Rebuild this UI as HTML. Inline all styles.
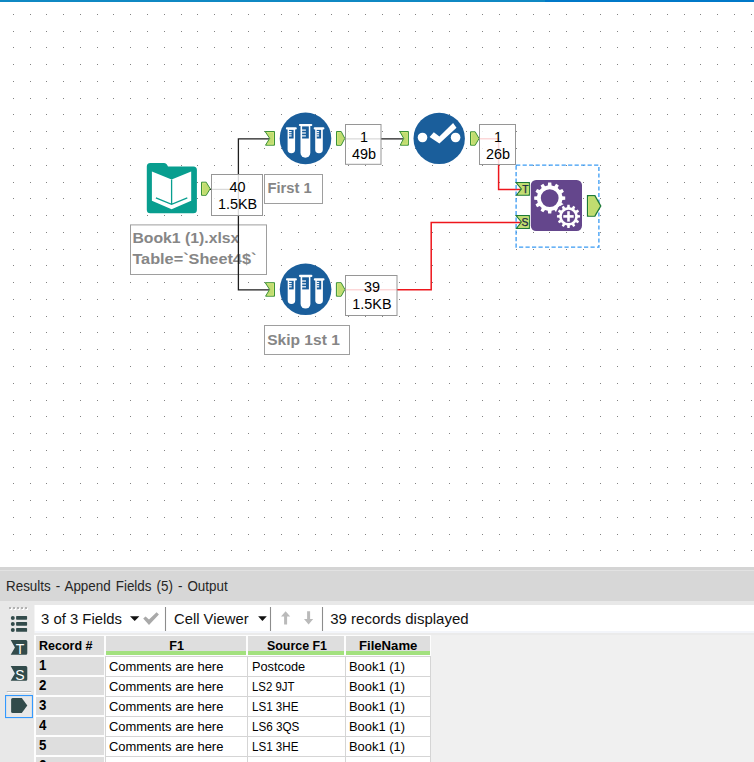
<!DOCTYPE html>
<html><head><meta charset="utf-8"><title>Results - Append Fields</title>
<style>
html,body{margin:0;padding:0;background:#fff}
body{width:754px;height:762px;position:relative;overflow:hidden;font-family:"Liberation Sans",Arial,sans-serif}
.t{position:absolute;white-space:nowrap;line-height:1;transform-origin:0 50%}
</style></head><body>
<svg width="754" height="567" viewBox="0 0 754 567" style="position:absolute;left:0;top:0"><style>.db{font-family:"Liberation Sans",Arial,sans-serif;font-size:14.4px;fill:#000;text-anchor:middle}.lb{font-family:"Liberation Sans",Arial,sans-serif;font-weight:bold;font-size:15.2px;fill:#868686}.an{font-family:"Liberation Sans",Arial,sans-serif;font-size:10.4px;fill:#1c2a44;stroke:#1c2a44;stroke-width:0.25px;text-anchor:middle}</style><rect width="754" height="567" fill="#fff"/><path fill="#828282" d="M13 14h1v1h-1zM30 14h1v1h-1zM46 14h1v1h-1zM63 14h1v1h-1zM80 14h1v1h-1zM97 14h1v1h-1zM113 14h1v1h-1zM130 14h1v1h-1zM147 14h1v1h-1zM164 14h1v1h-1zM181 14h1v1h-1zM197 14h1v1h-1zM214 14h1v1h-1zM231 14h1v1h-1zM248 14h1v1h-1zM264 14h1v1h-1zM281 14h1v1h-1zM298 14h1v1h-1zM315 14h1v1h-1zM331 14h1v1h-1zM348 14h1v1h-1zM365 14h1v1h-1zM382 14h1v1h-1zM399 14h1v1h-1zM415 14h1v1h-1zM432 14h1v1h-1zM449 14h1v1h-1zM466 14h1v1h-1zM482 14h1v1h-1zM499 14h1v1h-1zM516 14h1v1h-1zM533 14h1v1h-1zM549 14h1v1h-1zM566 14h1v1h-1zM583 14h1v1h-1zM600 14h1v1h-1zM617 14h1v1h-1zM633 14h1v1h-1zM650 14h1v1h-1zM667 14h1v1h-1zM684 14h1v1h-1zM700 14h1v1h-1zM717 14h1v1h-1zM734 14h1v1h-1zM751 14h1v1h-1zM13 31h1v1h-1zM30 31h1v1h-1zM46 31h1v1h-1zM63 31h1v1h-1zM80 31h1v1h-1zM97 31h1v1h-1zM113 31h1v1h-1zM130 31h1v1h-1zM147 31h1v1h-1zM164 31h1v1h-1zM181 31h1v1h-1zM197 31h1v1h-1zM214 31h1v1h-1zM231 31h1v1h-1zM248 31h1v1h-1zM264 31h1v1h-1zM281 31h1v1h-1zM298 31h1v1h-1zM315 31h1v1h-1zM331 31h1v1h-1zM348 31h1v1h-1zM365 31h1v1h-1zM382 31h1v1h-1zM399 31h1v1h-1zM415 31h1v1h-1zM432 31h1v1h-1zM449 31h1v1h-1zM466 31h1v1h-1zM482 31h1v1h-1zM499 31h1v1h-1zM516 31h1v1h-1zM533 31h1v1h-1zM549 31h1v1h-1zM566 31h1v1h-1zM583 31h1v1h-1zM600 31h1v1h-1zM617 31h1v1h-1zM633 31h1v1h-1zM650 31h1v1h-1zM667 31h1v1h-1zM684 31h1v1h-1zM700 31h1v1h-1zM717 31h1v1h-1zM734 31h1v1h-1zM751 31h1v1h-1zM13 47h1v1h-1zM30 47h1v1h-1zM46 47h1v1h-1zM63 47h1v1h-1zM80 47h1v1h-1zM97 47h1v1h-1zM113 47h1v1h-1zM130 47h1v1h-1zM147 47h1v1h-1zM164 47h1v1h-1zM181 47h1v1h-1zM197 47h1v1h-1zM214 47h1v1h-1zM231 47h1v1h-1zM248 47h1v1h-1zM264 47h1v1h-1zM281 47h1v1h-1zM298 47h1v1h-1zM315 47h1v1h-1zM331 47h1v1h-1zM348 47h1v1h-1zM365 47h1v1h-1zM382 47h1v1h-1zM399 47h1v1h-1zM415 47h1v1h-1zM432 47h1v1h-1zM449 47h1v1h-1zM466 47h1v1h-1zM482 47h1v1h-1zM499 47h1v1h-1zM516 47h1v1h-1zM533 47h1v1h-1zM549 47h1v1h-1zM566 47h1v1h-1zM583 47h1v1h-1zM600 47h1v1h-1zM617 47h1v1h-1zM633 47h1v1h-1zM650 47h1v1h-1zM667 47h1v1h-1zM684 47h1v1h-1zM700 47h1v1h-1zM717 47h1v1h-1zM734 47h1v1h-1zM751 47h1v1h-1zM13 64h1v1h-1zM30 64h1v1h-1zM46 64h1v1h-1zM63 64h1v1h-1zM80 64h1v1h-1zM97 64h1v1h-1zM113 64h1v1h-1zM130 64h1v1h-1zM147 64h1v1h-1zM164 64h1v1h-1zM181 64h1v1h-1zM197 64h1v1h-1zM214 64h1v1h-1zM231 64h1v1h-1zM248 64h1v1h-1zM264 64h1v1h-1zM281 64h1v1h-1zM298 64h1v1h-1zM315 64h1v1h-1zM331 64h1v1h-1zM348 64h1v1h-1zM365 64h1v1h-1zM382 64h1v1h-1zM399 64h1v1h-1zM415 64h1v1h-1zM432 64h1v1h-1zM449 64h1v1h-1zM466 64h1v1h-1zM482 64h1v1h-1zM499 64h1v1h-1zM516 64h1v1h-1zM533 64h1v1h-1zM549 64h1v1h-1zM566 64h1v1h-1zM583 64h1v1h-1zM600 64h1v1h-1zM617 64h1v1h-1zM633 64h1v1h-1zM650 64h1v1h-1zM667 64h1v1h-1zM684 64h1v1h-1zM700 64h1v1h-1zM717 64h1v1h-1zM734 64h1v1h-1zM751 64h1v1h-1zM13 81h1v1h-1zM30 81h1v1h-1zM46 81h1v1h-1zM63 81h1v1h-1zM80 81h1v1h-1zM97 81h1v1h-1zM113 81h1v1h-1zM130 81h1v1h-1zM147 81h1v1h-1zM164 81h1v1h-1zM181 81h1v1h-1zM197 81h1v1h-1zM214 81h1v1h-1zM231 81h1v1h-1zM248 81h1v1h-1zM264 81h1v1h-1zM281 81h1v1h-1zM298 81h1v1h-1zM315 81h1v1h-1zM331 81h1v1h-1zM348 81h1v1h-1zM365 81h1v1h-1zM382 81h1v1h-1zM399 81h1v1h-1zM415 81h1v1h-1zM432 81h1v1h-1zM449 81h1v1h-1zM466 81h1v1h-1zM482 81h1v1h-1zM499 81h1v1h-1zM516 81h1v1h-1zM533 81h1v1h-1zM549 81h1v1h-1zM566 81h1v1h-1zM583 81h1v1h-1zM600 81h1v1h-1zM617 81h1v1h-1zM633 81h1v1h-1zM650 81h1v1h-1zM667 81h1v1h-1zM684 81h1v1h-1zM700 81h1v1h-1zM717 81h1v1h-1zM734 81h1v1h-1zM751 81h1v1h-1zM13 98h1v1h-1zM30 98h1v1h-1zM46 98h1v1h-1zM63 98h1v1h-1zM80 98h1v1h-1zM97 98h1v1h-1zM113 98h1v1h-1zM130 98h1v1h-1zM147 98h1v1h-1zM164 98h1v1h-1zM181 98h1v1h-1zM197 98h1v1h-1zM214 98h1v1h-1zM231 98h1v1h-1zM248 98h1v1h-1zM264 98h1v1h-1zM281 98h1v1h-1zM298 98h1v1h-1zM315 98h1v1h-1zM331 98h1v1h-1zM348 98h1v1h-1zM365 98h1v1h-1zM382 98h1v1h-1zM399 98h1v1h-1zM415 98h1v1h-1zM432 98h1v1h-1zM449 98h1v1h-1zM466 98h1v1h-1zM482 98h1v1h-1zM499 98h1v1h-1zM516 98h1v1h-1zM533 98h1v1h-1zM549 98h1v1h-1zM566 98h1v1h-1zM583 98h1v1h-1zM600 98h1v1h-1zM617 98h1v1h-1zM633 98h1v1h-1zM650 98h1v1h-1zM667 98h1v1h-1zM684 98h1v1h-1zM700 98h1v1h-1zM717 98h1v1h-1zM734 98h1v1h-1zM751 98h1v1h-1zM13 114h1v1h-1zM30 114h1v1h-1zM46 114h1v1h-1zM63 114h1v1h-1zM80 114h1v1h-1zM97 114h1v1h-1zM113 114h1v1h-1zM130 114h1v1h-1zM147 114h1v1h-1zM164 114h1v1h-1zM181 114h1v1h-1zM197 114h1v1h-1zM214 114h1v1h-1zM231 114h1v1h-1zM248 114h1v1h-1zM264 114h1v1h-1zM281 114h1v1h-1zM298 114h1v1h-1zM315 114h1v1h-1zM331 114h1v1h-1zM348 114h1v1h-1zM365 114h1v1h-1zM382 114h1v1h-1zM399 114h1v1h-1zM415 114h1v1h-1zM432 114h1v1h-1zM449 114h1v1h-1zM466 114h1v1h-1zM482 114h1v1h-1zM499 114h1v1h-1zM516 114h1v1h-1zM533 114h1v1h-1zM549 114h1v1h-1zM566 114h1v1h-1zM583 114h1v1h-1zM600 114h1v1h-1zM617 114h1v1h-1zM633 114h1v1h-1zM650 114h1v1h-1zM667 114h1v1h-1zM684 114h1v1h-1zM700 114h1v1h-1zM717 114h1v1h-1zM734 114h1v1h-1zM751 114h1v1h-1zM13 131h1v1h-1zM30 131h1v1h-1zM46 131h1v1h-1zM63 131h1v1h-1zM80 131h1v1h-1zM97 131h1v1h-1zM113 131h1v1h-1zM130 131h1v1h-1zM147 131h1v1h-1zM164 131h1v1h-1zM181 131h1v1h-1zM197 131h1v1h-1zM214 131h1v1h-1zM231 131h1v1h-1zM248 131h1v1h-1zM264 131h1v1h-1zM281 131h1v1h-1zM298 131h1v1h-1zM315 131h1v1h-1zM331 131h1v1h-1zM348 131h1v1h-1zM365 131h1v1h-1zM382 131h1v1h-1zM399 131h1v1h-1zM415 131h1v1h-1zM432 131h1v1h-1zM449 131h1v1h-1zM466 131h1v1h-1zM482 131h1v1h-1zM499 131h1v1h-1zM516 131h1v1h-1zM533 131h1v1h-1zM549 131h1v1h-1zM566 131h1v1h-1zM583 131h1v1h-1zM600 131h1v1h-1zM617 131h1v1h-1zM633 131h1v1h-1zM650 131h1v1h-1zM667 131h1v1h-1zM684 131h1v1h-1zM700 131h1v1h-1zM717 131h1v1h-1zM734 131h1v1h-1zM751 131h1v1h-1zM13 148h1v1h-1zM30 148h1v1h-1zM46 148h1v1h-1zM63 148h1v1h-1zM80 148h1v1h-1zM97 148h1v1h-1zM113 148h1v1h-1zM130 148h1v1h-1zM147 148h1v1h-1zM164 148h1v1h-1zM181 148h1v1h-1zM197 148h1v1h-1zM214 148h1v1h-1zM231 148h1v1h-1zM248 148h1v1h-1zM264 148h1v1h-1zM281 148h1v1h-1zM298 148h1v1h-1zM315 148h1v1h-1zM331 148h1v1h-1zM348 148h1v1h-1zM365 148h1v1h-1zM382 148h1v1h-1zM399 148h1v1h-1zM415 148h1v1h-1zM432 148h1v1h-1zM449 148h1v1h-1zM466 148h1v1h-1zM482 148h1v1h-1zM499 148h1v1h-1zM516 148h1v1h-1zM533 148h1v1h-1zM549 148h1v1h-1zM566 148h1v1h-1zM583 148h1v1h-1zM600 148h1v1h-1zM617 148h1v1h-1zM633 148h1v1h-1zM650 148h1v1h-1zM667 148h1v1h-1zM684 148h1v1h-1zM700 148h1v1h-1zM717 148h1v1h-1zM734 148h1v1h-1zM751 148h1v1h-1zM13 165h1v1h-1zM30 165h1v1h-1zM46 165h1v1h-1zM63 165h1v1h-1zM80 165h1v1h-1zM97 165h1v1h-1zM113 165h1v1h-1zM130 165h1v1h-1zM147 165h1v1h-1zM164 165h1v1h-1zM181 165h1v1h-1zM197 165h1v1h-1zM214 165h1v1h-1zM231 165h1v1h-1zM248 165h1v1h-1zM264 165h1v1h-1zM281 165h1v1h-1zM298 165h1v1h-1zM315 165h1v1h-1zM331 165h1v1h-1zM348 165h1v1h-1zM365 165h1v1h-1zM382 165h1v1h-1zM399 165h1v1h-1zM415 165h1v1h-1zM432 165h1v1h-1zM449 165h1v1h-1zM466 165h1v1h-1zM482 165h1v1h-1zM499 165h1v1h-1zM516 165h1v1h-1zM533 165h1v1h-1zM549 165h1v1h-1zM566 165h1v1h-1zM583 165h1v1h-1zM600 165h1v1h-1zM617 165h1v1h-1zM633 165h1v1h-1zM650 165h1v1h-1zM667 165h1v1h-1zM684 165h1v1h-1zM700 165h1v1h-1zM717 165h1v1h-1zM734 165h1v1h-1zM751 165h1v1h-1zM13 182h1v1h-1zM30 182h1v1h-1zM46 182h1v1h-1zM63 182h1v1h-1zM80 182h1v1h-1zM97 182h1v1h-1zM113 182h1v1h-1zM130 182h1v1h-1zM147 182h1v1h-1zM164 182h1v1h-1zM181 182h1v1h-1zM197 182h1v1h-1zM214 182h1v1h-1zM231 182h1v1h-1zM248 182h1v1h-1zM264 182h1v1h-1zM281 182h1v1h-1zM298 182h1v1h-1zM315 182h1v1h-1zM331 182h1v1h-1zM348 182h1v1h-1zM365 182h1v1h-1zM382 182h1v1h-1zM399 182h1v1h-1zM415 182h1v1h-1zM432 182h1v1h-1zM449 182h1v1h-1zM466 182h1v1h-1zM482 182h1v1h-1zM499 182h1v1h-1zM516 182h1v1h-1zM533 182h1v1h-1zM549 182h1v1h-1zM566 182h1v1h-1zM583 182h1v1h-1zM600 182h1v1h-1zM617 182h1v1h-1zM633 182h1v1h-1zM650 182h1v1h-1zM667 182h1v1h-1zM684 182h1v1h-1zM700 182h1v1h-1zM717 182h1v1h-1zM734 182h1v1h-1zM751 182h1v1h-1zM13 198h1v1h-1zM30 198h1v1h-1zM46 198h1v1h-1zM63 198h1v1h-1zM80 198h1v1h-1zM97 198h1v1h-1zM113 198h1v1h-1zM130 198h1v1h-1zM147 198h1v1h-1zM164 198h1v1h-1zM181 198h1v1h-1zM197 198h1v1h-1zM214 198h1v1h-1zM231 198h1v1h-1zM248 198h1v1h-1zM264 198h1v1h-1zM281 198h1v1h-1zM298 198h1v1h-1zM315 198h1v1h-1zM331 198h1v1h-1zM348 198h1v1h-1zM365 198h1v1h-1zM382 198h1v1h-1zM399 198h1v1h-1zM415 198h1v1h-1zM432 198h1v1h-1zM449 198h1v1h-1zM466 198h1v1h-1zM482 198h1v1h-1zM499 198h1v1h-1zM516 198h1v1h-1zM533 198h1v1h-1zM549 198h1v1h-1zM566 198h1v1h-1zM583 198h1v1h-1zM600 198h1v1h-1zM617 198h1v1h-1zM633 198h1v1h-1zM650 198h1v1h-1zM667 198h1v1h-1zM684 198h1v1h-1zM700 198h1v1h-1zM717 198h1v1h-1zM734 198h1v1h-1zM751 198h1v1h-1zM13 215h1v1h-1zM30 215h1v1h-1zM46 215h1v1h-1zM63 215h1v1h-1zM80 215h1v1h-1zM97 215h1v1h-1zM113 215h1v1h-1zM130 215h1v1h-1zM147 215h1v1h-1zM164 215h1v1h-1zM181 215h1v1h-1zM197 215h1v1h-1zM214 215h1v1h-1zM231 215h1v1h-1zM248 215h1v1h-1zM264 215h1v1h-1zM281 215h1v1h-1zM298 215h1v1h-1zM315 215h1v1h-1zM331 215h1v1h-1zM348 215h1v1h-1zM365 215h1v1h-1zM382 215h1v1h-1zM399 215h1v1h-1zM415 215h1v1h-1zM432 215h1v1h-1zM449 215h1v1h-1zM466 215h1v1h-1zM482 215h1v1h-1zM499 215h1v1h-1zM516 215h1v1h-1zM533 215h1v1h-1zM549 215h1v1h-1zM566 215h1v1h-1zM583 215h1v1h-1zM600 215h1v1h-1zM617 215h1v1h-1zM633 215h1v1h-1zM650 215h1v1h-1zM667 215h1v1h-1zM684 215h1v1h-1zM700 215h1v1h-1zM717 215h1v1h-1zM734 215h1v1h-1zM751 215h1v1h-1zM13 232h1v1h-1zM30 232h1v1h-1zM46 232h1v1h-1zM63 232h1v1h-1zM80 232h1v1h-1zM97 232h1v1h-1zM113 232h1v1h-1zM130 232h1v1h-1zM147 232h1v1h-1zM164 232h1v1h-1zM181 232h1v1h-1zM197 232h1v1h-1zM214 232h1v1h-1zM231 232h1v1h-1zM248 232h1v1h-1zM264 232h1v1h-1zM281 232h1v1h-1zM298 232h1v1h-1zM315 232h1v1h-1zM331 232h1v1h-1zM348 232h1v1h-1zM365 232h1v1h-1zM382 232h1v1h-1zM399 232h1v1h-1zM415 232h1v1h-1zM432 232h1v1h-1zM449 232h1v1h-1zM466 232h1v1h-1zM482 232h1v1h-1zM499 232h1v1h-1zM516 232h1v1h-1zM533 232h1v1h-1zM549 232h1v1h-1zM566 232h1v1h-1zM583 232h1v1h-1zM600 232h1v1h-1zM617 232h1v1h-1zM633 232h1v1h-1zM650 232h1v1h-1zM667 232h1v1h-1zM684 232h1v1h-1zM700 232h1v1h-1zM717 232h1v1h-1zM734 232h1v1h-1zM751 232h1v1h-1zM13 249h1v1h-1zM30 249h1v1h-1zM46 249h1v1h-1zM63 249h1v1h-1zM80 249h1v1h-1zM97 249h1v1h-1zM113 249h1v1h-1zM130 249h1v1h-1zM147 249h1v1h-1zM164 249h1v1h-1zM181 249h1v1h-1zM197 249h1v1h-1zM214 249h1v1h-1zM231 249h1v1h-1zM248 249h1v1h-1zM264 249h1v1h-1zM281 249h1v1h-1zM298 249h1v1h-1zM315 249h1v1h-1zM331 249h1v1h-1zM348 249h1v1h-1zM365 249h1v1h-1zM382 249h1v1h-1zM399 249h1v1h-1zM415 249h1v1h-1zM432 249h1v1h-1zM449 249h1v1h-1zM466 249h1v1h-1zM482 249h1v1h-1zM499 249h1v1h-1zM516 249h1v1h-1zM533 249h1v1h-1zM549 249h1v1h-1zM566 249h1v1h-1zM583 249h1v1h-1zM600 249h1v1h-1zM617 249h1v1h-1zM633 249h1v1h-1zM650 249h1v1h-1zM667 249h1v1h-1zM684 249h1v1h-1zM700 249h1v1h-1zM717 249h1v1h-1zM734 249h1v1h-1zM751 249h1v1h-1zM13 265h1v1h-1zM30 265h1v1h-1zM46 265h1v1h-1zM63 265h1v1h-1zM80 265h1v1h-1zM97 265h1v1h-1zM113 265h1v1h-1zM130 265h1v1h-1zM147 265h1v1h-1zM164 265h1v1h-1zM181 265h1v1h-1zM197 265h1v1h-1zM214 265h1v1h-1zM231 265h1v1h-1zM248 265h1v1h-1zM264 265h1v1h-1zM281 265h1v1h-1zM298 265h1v1h-1zM315 265h1v1h-1zM331 265h1v1h-1zM348 265h1v1h-1zM365 265h1v1h-1zM382 265h1v1h-1zM399 265h1v1h-1zM415 265h1v1h-1zM432 265h1v1h-1zM449 265h1v1h-1zM466 265h1v1h-1zM482 265h1v1h-1zM499 265h1v1h-1zM516 265h1v1h-1zM533 265h1v1h-1zM549 265h1v1h-1zM566 265h1v1h-1zM583 265h1v1h-1zM600 265h1v1h-1zM617 265h1v1h-1zM633 265h1v1h-1zM650 265h1v1h-1zM667 265h1v1h-1zM684 265h1v1h-1zM700 265h1v1h-1zM717 265h1v1h-1zM734 265h1v1h-1zM751 265h1v1h-1zM13 282h1v1h-1zM30 282h1v1h-1zM46 282h1v1h-1zM63 282h1v1h-1zM80 282h1v1h-1zM97 282h1v1h-1zM113 282h1v1h-1zM130 282h1v1h-1zM147 282h1v1h-1zM164 282h1v1h-1zM181 282h1v1h-1zM197 282h1v1h-1zM214 282h1v1h-1zM231 282h1v1h-1zM248 282h1v1h-1zM264 282h1v1h-1zM281 282h1v1h-1zM298 282h1v1h-1zM315 282h1v1h-1zM331 282h1v1h-1zM348 282h1v1h-1zM365 282h1v1h-1zM382 282h1v1h-1zM399 282h1v1h-1zM415 282h1v1h-1zM432 282h1v1h-1zM449 282h1v1h-1zM466 282h1v1h-1zM482 282h1v1h-1zM499 282h1v1h-1zM516 282h1v1h-1zM533 282h1v1h-1zM549 282h1v1h-1zM566 282h1v1h-1zM583 282h1v1h-1zM600 282h1v1h-1zM617 282h1v1h-1zM633 282h1v1h-1zM650 282h1v1h-1zM667 282h1v1h-1zM684 282h1v1h-1zM700 282h1v1h-1zM717 282h1v1h-1zM734 282h1v1h-1zM751 282h1v1h-1zM13 299h1v1h-1zM30 299h1v1h-1zM46 299h1v1h-1zM63 299h1v1h-1zM80 299h1v1h-1zM97 299h1v1h-1zM113 299h1v1h-1zM130 299h1v1h-1zM147 299h1v1h-1zM164 299h1v1h-1zM181 299h1v1h-1zM197 299h1v1h-1zM214 299h1v1h-1zM231 299h1v1h-1zM248 299h1v1h-1zM264 299h1v1h-1zM281 299h1v1h-1zM298 299h1v1h-1zM315 299h1v1h-1zM331 299h1v1h-1zM348 299h1v1h-1zM365 299h1v1h-1zM382 299h1v1h-1zM399 299h1v1h-1zM415 299h1v1h-1zM432 299h1v1h-1zM449 299h1v1h-1zM466 299h1v1h-1zM482 299h1v1h-1zM499 299h1v1h-1zM516 299h1v1h-1zM533 299h1v1h-1zM549 299h1v1h-1zM566 299h1v1h-1zM583 299h1v1h-1zM600 299h1v1h-1zM617 299h1v1h-1zM633 299h1v1h-1zM650 299h1v1h-1zM667 299h1v1h-1zM684 299h1v1h-1zM700 299h1v1h-1zM717 299h1v1h-1zM734 299h1v1h-1zM751 299h1v1h-1zM13 316h1v1h-1zM30 316h1v1h-1zM46 316h1v1h-1zM63 316h1v1h-1zM80 316h1v1h-1zM97 316h1v1h-1zM113 316h1v1h-1zM130 316h1v1h-1zM147 316h1v1h-1zM164 316h1v1h-1zM181 316h1v1h-1zM197 316h1v1h-1zM214 316h1v1h-1zM231 316h1v1h-1zM248 316h1v1h-1zM264 316h1v1h-1zM281 316h1v1h-1zM298 316h1v1h-1zM315 316h1v1h-1zM331 316h1v1h-1zM348 316h1v1h-1zM365 316h1v1h-1zM382 316h1v1h-1zM399 316h1v1h-1zM415 316h1v1h-1zM432 316h1v1h-1zM449 316h1v1h-1zM466 316h1v1h-1zM482 316h1v1h-1zM499 316h1v1h-1zM516 316h1v1h-1zM533 316h1v1h-1zM549 316h1v1h-1zM566 316h1v1h-1zM583 316h1v1h-1zM600 316h1v1h-1zM617 316h1v1h-1zM633 316h1v1h-1zM650 316h1v1h-1zM667 316h1v1h-1zM684 316h1v1h-1zM700 316h1v1h-1zM717 316h1v1h-1zM734 316h1v1h-1zM751 316h1v1h-1zM13 332h1v1h-1zM30 332h1v1h-1zM46 332h1v1h-1zM63 332h1v1h-1zM80 332h1v1h-1zM97 332h1v1h-1zM113 332h1v1h-1zM130 332h1v1h-1zM147 332h1v1h-1zM164 332h1v1h-1zM181 332h1v1h-1zM197 332h1v1h-1zM214 332h1v1h-1zM231 332h1v1h-1zM248 332h1v1h-1zM264 332h1v1h-1zM281 332h1v1h-1zM298 332h1v1h-1zM315 332h1v1h-1zM331 332h1v1h-1zM348 332h1v1h-1zM365 332h1v1h-1zM382 332h1v1h-1zM399 332h1v1h-1zM415 332h1v1h-1zM432 332h1v1h-1zM449 332h1v1h-1zM466 332h1v1h-1zM482 332h1v1h-1zM499 332h1v1h-1zM516 332h1v1h-1zM533 332h1v1h-1zM549 332h1v1h-1zM566 332h1v1h-1zM583 332h1v1h-1zM600 332h1v1h-1zM617 332h1v1h-1zM633 332h1v1h-1zM650 332h1v1h-1zM667 332h1v1h-1zM684 332h1v1h-1zM700 332h1v1h-1zM717 332h1v1h-1zM734 332h1v1h-1zM751 332h1v1h-1zM13 349h1v1h-1zM30 349h1v1h-1zM46 349h1v1h-1zM63 349h1v1h-1zM80 349h1v1h-1zM97 349h1v1h-1zM113 349h1v1h-1zM130 349h1v1h-1zM147 349h1v1h-1zM164 349h1v1h-1zM181 349h1v1h-1zM197 349h1v1h-1zM214 349h1v1h-1zM231 349h1v1h-1zM248 349h1v1h-1zM264 349h1v1h-1zM281 349h1v1h-1zM298 349h1v1h-1zM315 349h1v1h-1zM331 349h1v1h-1zM348 349h1v1h-1zM365 349h1v1h-1zM382 349h1v1h-1zM399 349h1v1h-1zM415 349h1v1h-1zM432 349h1v1h-1zM449 349h1v1h-1zM466 349h1v1h-1zM482 349h1v1h-1zM499 349h1v1h-1zM516 349h1v1h-1zM533 349h1v1h-1zM549 349h1v1h-1zM566 349h1v1h-1zM583 349h1v1h-1zM600 349h1v1h-1zM617 349h1v1h-1zM633 349h1v1h-1zM650 349h1v1h-1zM667 349h1v1h-1zM684 349h1v1h-1zM700 349h1v1h-1zM717 349h1v1h-1zM734 349h1v1h-1zM751 349h1v1h-1zM13 366h1v1h-1zM30 366h1v1h-1zM46 366h1v1h-1zM63 366h1v1h-1zM80 366h1v1h-1zM97 366h1v1h-1zM113 366h1v1h-1zM130 366h1v1h-1zM147 366h1v1h-1zM164 366h1v1h-1zM181 366h1v1h-1zM197 366h1v1h-1zM214 366h1v1h-1zM231 366h1v1h-1zM248 366h1v1h-1zM264 366h1v1h-1zM281 366h1v1h-1zM298 366h1v1h-1zM315 366h1v1h-1zM331 366h1v1h-1zM348 366h1v1h-1zM365 366h1v1h-1zM382 366h1v1h-1zM399 366h1v1h-1zM415 366h1v1h-1zM432 366h1v1h-1zM449 366h1v1h-1zM466 366h1v1h-1zM482 366h1v1h-1zM499 366h1v1h-1zM516 366h1v1h-1zM533 366h1v1h-1zM549 366h1v1h-1zM566 366h1v1h-1zM583 366h1v1h-1zM600 366h1v1h-1zM617 366h1v1h-1zM633 366h1v1h-1zM650 366h1v1h-1zM667 366h1v1h-1zM684 366h1v1h-1zM700 366h1v1h-1zM717 366h1v1h-1zM734 366h1v1h-1zM751 366h1v1h-1zM13 383h1v1h-1zM30 383h1v1h-1zM46 383h1v1h-1zM63 383h1v1h-1zM80 383h1v1h-1zM97 383h1v1h-1zM113 383h1v1h-1zM130 383h1v1h-1zM147 383h1v1h-1zM164 383h1v1h-1zM181 383h1v1h-1zM197 383h1v1h-1zM214 383h1v1h-1zM231 383h1v1h-1zM248 383h1v1h-1zM264 383h1v1h-1zM281 383h1v1h-1zM298 383h1v1h-1zM315 383h1v1h-1zM331 383h1v1h-1zM348 383h1v1h-1zM365 383h1v1h-1zM382 383h1v1h-1zM399 383h1v1h-1zM415 383h1v1h-1zM432 383h1v1h-1zM449 383h1v1h-1zM466 383h1v1h-1zM482 383h1v1h-1zM499 383h1v1h-1zM516 383h1v1h-1zM533 383h1v1h-1zM549 383h1v1h-1zM566 383h1v1h-1zM583 383h1v1h-1zM600 383h1v1h-1zM617 383h1v1h-1zM633 383h1v1h-1zM650 383h1v1h-1zM667 383h1v1h-1zM684 383h1v1h-1zM700 383h1v1h-1zM717 383h1v1h-1zM734 383h1v1h-1zM751 383h1v1h-1zM13 400h1v1h-1zM30 400h1v1h-1zM46 400h1v1h-1zM63 400h1v1h-1zM80 400h1v1h-1zM97 400h1v1h-1zM113 400h1v1h-1zM130 400h1v1h-1zM147 400h1v1h-1zM164 400h1v1h-1zM181 400h1v1h-1zM197 400h1v1h-1zM214 400h1v1h-1zM231 400h1v1h-1zM248 400h1v1h-1zM264 400h1v1h-1zM281 400h1v1h-1zM298 400h1v1h-1zM315 400h1v1h-1zM331 400h1v1h-1zM348 400h1v1h-1zM365 400h1v1h-1zM382 400h1v1h-1zM399 400h1v1h-1zM415 400h1v1h-1zM432 400h1v1h-1zM449 400h1v1h-1zM466 400h1v1h-1zM482 400h1v1h-1zM499 400h1v1h-1zM516 400h1v1h-1zM533 400h1v1h-1zM549 400h1v1h-1zM566 400h1v1h-1zM583 400h1v1h-1zM600 400h1v1h-1zM617 400h1v1h-1zM633 400h1v1h-1zM650 400h1v1h-1zM667 400h1v1h-1zM684 400h1v1h-1zM700 400h1v1h-1zM717 400h1v1h-1zM734 400h1v1h-1zM751 400h1v1h-1zM13 416h1v1h-1zM30 416h1v1h-1zM46 416h1v1h-1zM63 416h1v1h-1zM80 416h1v1h-1zM97 416h1v1h-1zM113 416h1v1h-1zM130 416h1v1h-1zM147 416h1v1h-1zM164 416h1v1h-1zM181 416h1v1h-1zM197 416h1v1h-1zM214 416h1v1h-1zM231 416h1v1h-1zM248 416h1v1h-1zM264 416h1v1h-1zM281 416h1v1h-1zM298 416h1v1h-1zM315 416h1v1h-1zM331 416h1v1h-1zM348 416h1v1h-1zM365 416h1v1h-1zM382 416h1v1h-1zM399 416h1v1h-1zM415 416h1v1h-1zM432 416h1v1h-1zM449 416h1v1h-1zM466 416h1v1h-1zM482 416h1v1h-1zM499 416h1v1h-1zM516 416h1v1h-1zM533 416h1v1h-1zM549 416h1v1h-1zM566 416h1v1h-1zM583 416h1v1h-1zM600 416h1v1h-1zM617 416h1v1h-1zM633 416h1v1h-1zM650 416h1v1h-1zM667 416h1v1h-1zM684 416h1v1h-1zM700 416h1v1h-1zM717 416h1v1h-1zM734 416h1v1h-1zM751 416h1v1h-1zM13 433h1v1h-1zM30 433h1v1h-1zM46 433h1v1h-1zM63 433h1v1h-1zM80 433h1v1h-1zM97 433h1v1h-1zM113 433h1v1h-1zM130 433h1v1h-1zM147 433h1v1h-1zM164 433h1v1h-1zM181 433h1v1h-1zM197 433h1v1h-1zM214 433h1v1h-1zM231 433h1v1h-1zM248 433h1v1h-1zM264 433h1v1h-1zM281 433h1v1h-1zM298 433h1v1h-1zM315 433h1v1h-1zM331 433h1v1h-1zM348 433h1v1h-1zM365 433h1v1h-1zM382 433h1v1h-1zM399 433h1v1h-1zM415 433h1v1h-1zM432 433h1v1h-1zM449 433h1v1h-1zM466 433h1v1h-1zM482 433h1v1h-1zM499 433h1v1h-1zM516 433h1v1h-1zM533 433h1v1h-1zM549 433h1v1h-1zM566 433h1v1h-1zM583 433h1v1h-1zM600 433h1v1h-1zM617 433h1v1h-1zM633 433h1v1h-1zM650 433h1v1h-1zM667 433h1v1h-1zM684 433h1v1h-1zM700 433h1v1h-1zM717 433h1v1h-1zM734 433h1v1h-1zM751 433h1v1h-1zM13 450h1v1h-1zM30 450h1v1h-1zM46 450h1v1h-1zM63 450h1v1h-1zM80 450h1v1h-1zM97 450h1v1h-1zM113 450h1v1h-1zM130 450h1v1h-1zM147 450h1v1h-1zM164 450h1v1h-1zM181 450h1v1h-1zM197 450h1v1h-1zM214 450h1v1h-1zM231 450h1v1h-1zM248 450h1v1h-1zM264 450h1v1h-1zM281 450h1v1h-1zM298 450h1v1h-1zM315 450h1v1h-1zM331 450h1v1h-1zM348 450h1v1h-1zM365 450h1v1h-1zM382 450h1v1h-1zM399 450h1v1h-1zM415 450h1v1h-1zM432 450h1v1h-1zM449 450h1v1h-1zM466 450h1v1h-1zM482 450h1v1h-1zM499 450h1v1h-1zM516 450h1v1h-1zM533 450h1v1h-1zM549 450h1v1h-1zM566 450h1v1h-1zM583 450h1v1h-1zM600 450h1v1h-1zM617 450h1v1h-1zM633 450h1v1h-1zM650 450h1v1h-1zM667 450h1v1h-1zM684 450h1v1h-1zM700 450h1v1h-1zM717 450h1v1h-1zM734 450h1v1h-1zM751 450h1v1h-1zM13 467h1v1h-1zM30 467h1v1h-1zM46 467h1v1h-1zM63 467h1v1h-1zM80 467h1v1h-1zM97 467h1v1h-1zM113 467h1v1h-1zM130 467h1v1h-1zM147 467h1v1h-1zM164 467h1v1h-1zM181 467h1v1h-1zM197 467h1v1h-1zM214 467h1v1h-1zM231 467h1v1h-1zM248 467h1v1h-1zM264 467h1v1h-1zM281 467h1v1h-1zM298 467h1v1h-1zM315 467h1v1h-1zM331 467h1v1h-1zM348 467h1v1h-1zM365 467h1v1h-1zM382 467h1v1h-1zM399 467h1v1h-1zM415 467h1v1h-1zM432 467h1v1h-1zM449 467h1v1h-1zM466 467h1v1h-1zM482 467h1v1h-1zM499 467h1v1h-1zM516 467h1v1h-1zM533 467h1v1h-1zM549 467h1v1h-1zM566 467h1v1h-1zM583 467h1v1h-1zM600 467h1v1h-1zM617 467h1v1h-1zM633 467h1v1h-1zM650 467h1v1h-1zM667 467h1v1h-1zM684 467h1v1h-1zM700 467h1v1h-1zM717 467h1v1h-1zM734 467h1v1h-1zM751 467h1v1h-1zM13 483h1v1h-1zM30 483h1v1h-1zM46 483h1v1h-1zM63 483h1v1h-1zM80 483h1v1h-1zM97 483h1v1h-1zM113 483h1v1h-1zM130 483h1v1h-1zM147 483h1v1h-1zM164 483h1v1h-1zM181 483h1v1h-1zM197 483h1v1h-1zM214 483h1v1h-1zM231 483h1v1h-1zM248 483h1v1h-1zM264 483h1v1h-1zM281 483h1v1h-1zM298 483h1v1h-1zM315 483h1v1h-1zM331 483h1v1h-1zM348 483h1v1h-1zM365 483h1v1h-1zM382 483h1v1h-1zM399 483h1v1h-1zM415 483h1v1h-1zM432 483h1v1h-1zM449 483h1v1h-1zM466 483h1v1h-1zM482 483h1v1h-1zM499 483h1v1h-1zM516 483h1v1h-1zM533 483h1v1h-1zM549 483h1v1h-1zM566 483h1v1h-1zM583 483h1v1h-1zM600 483h1v1h-1zM617 483h1v1h-1zM633 483h1v1h-1zM650 483h1v1h-1zM667 483h1v1h-1zM684 483h1v1h-1zM700 483h1v1h-1zM717 483h1v1h-1zM734 483h1v1h-1zM751 483h1v1h-1zM13 500h1v1h-1zM30 500h1v1h-1zM46 500h1v1h-1zM63 500h1v1h-1zM80 500h1v1h-1zM97 500h1v1h-1zM113 500h1v1h-1zM130 500h1v1h-1zM147 500h1v1h-1zM164 500h1v1h-1zM181 500h1v1h-1zM197 500h1v1h-1zM214 500h1v1h-1zM231 500h1v1h-1zM248 500h1v1h-1zM264 500h1v1h-1zM281 500h1v1h-1zM298 500h1v1h-1zM315 500h1v1h-1zM331 500h1v1h-1zM348 500h1v1h-1zM365 500h1v1h-1zM382 500h1v1h-1zM399 500h1v1h-1zM415 500h1v1h-1zM432 500h1v1h-1zM449 500h1v1h-1zM466 500h1v1h-1zM482 500h1v1h-1zM499 500h1v1h-1zM516 500h1v1h-1zM533 500h1v1h-1zM549 500h1v1h-1zM566 500h1v1h-1zM583 500h1v1h-1zM600 500h1v1h-1zM617 500h1v1h-1zM633 500h1v1h-1zM650 500h1v1h-1zM667 500h1v1h-1zM684 500h1v1h-1zM700 500h1v1h-1zM717 500h1v1h-1zM734 500h1v1h-1zM751 500h1v1h-1zM13 517h1v1h-1zM30 517h1v1h-1zM46 517h1v1h-1zM63 517h1v1h-1zM80 517h1v1h-1zM97 517h1v1h-1zM113 517h1v1h-1zM130 517h1v1h-1zM147 517h1v1h-1zM164 517h1v1h-1zM181 517h1v1h-1zM197 517h1v1h-1zM214 517h1v1h-1zM231 517h1v1h-1zM248 517h1v1h-1zM264 517h1v1h-1zM281 517h1v1h-1zM298 517h1v1h-1zM315 517h1v1h-1zM331 517h1v1h-1zM348 517h1v1h-1zM365 517h1v1h-1zM382 517h1v1h-1zM399 517h1v1h-1zM415 517h1v1h-1zM432 517h1v1h-1zM449 517h1v1h-1zM466 517h1v1h-1zM482 517h1v1h-1zM499 517h1v1h-1zM516 517h1v1h-1zM533 517h1v1h-1zM549 517h1v1h-1zM566 517h1v1h-1zM583 517h1v1h-1zM600 517h1v1h-1zM617 517h1v1h-1zM633 517h1v1h-1zM650 517h1v1h-1zM667 517h1v1h-1zM684 517h1v1h-1zM700 517h1v1h-1zM717 517h1v1h-1zM734 517h1v1h-1zM751 517h1v1h-1zM13 534h1v1h-1zM30 534h1v1h-1zM46 534h1v1h-1zM63 534h1v1h-1zM80 534h1v1h-1zM97 534h1v1h-1zM113 534h1v1h-1zM130 534h1v1h-1zM147 534h1v1h-1zM164 534h1v1h-1zM181 534h1v1h-1zM197 534h1v1h-1zM214 534h1v1h-1zM231 534h1v1h-1zM248 534h1v1h-1zM264 534h1v1h-1zM281 534h1v1h-1zM298 534h1v1h-1zM315 534h1v1h-1zM331 534h1v1h-1zM348 534h1v1h-1zM365 534h1v1h-1zM382 534h1v1h-1zM399 534h1v1h-1zM415 534h1v1h-1zM432 534h1v1h-1zM449 534h1v1h-1zM466 534h1v1h-1zM482 534h1v1h-1zM499 534h1v1h-1zM516 534h1v1h-1zM533 534h1v1h-1zM549 534h1v1h-1zM566 534h1v1h-1zM583 534h1v1h-1zM600 534h1v1h-1zM617 534h1v1h-1zM633 534h1v1h-1zM650 534h1v1h-1zM667 534h1v1h-1zM684 534h1v1h-1zM700 534h1v1h-1zM717 534h1v1h-1zM734 534h1v1h-1zM751 534h1v1h-1zM13 550h1v1h-1zM30 550h1v1h-1zM46 550h1v1h-1zM63 550h1v1h-1zM80 550h1v1h-1zM97 550h1v1h-1zM113 550h1v1h-1zM130 550h1v1h-1zM147 550h1v1h-1zM164 550h1v1h-1zM181 550h1v1h-1zM197 550h1v1h-1zM214 550h1v1h-1zM231 550h1v1h-1zM248 550h1v1h-1zM264 550h1v1h-1zM281 550h1v1h-1zM298 550h1v1h-1zM315 550h1v1h-1zM331 550h1v1h-1zM348 550h1v1h-1zM365 550h1v1h-1zM382 550h1v1h-1zM399 550h1v1h-1zM415 550h1v1h-1zM432 550h1v1h-1zM449 550h1v1h-1zM466 550h1v1h-1zM482 550h1v1h-1zM499 550h1v1h-1zM516 550h1v1h-1zM533 550h1v1h-1zM549 550h1v1h-1zM566 550h1v1h-1zM583 550h1v1h-1zM600 550h1v1h-1zM617 550h1v1h-1zM633 550h1v1h-1zM650 550h1v1h-1zM667 550h1v1h-1zM684 550h1v1h-1zM700 550h1v1h-1zM717 550h1v1h-1zM734 550h1v1h-1zM751 550h1v1h-1z"/><rect x="264.5" y="174.5" width="58" height="29" fill="#fff" stroke="#9e9e9e" stroke-width="1"/><text x="267.5" y="193.4" class="lb" textLength="44.3" lengthAdjust="spacingAndGlyphs">First 1</text><rect x="130.5" y="224.9" width="136" height="49.6" fill="#fff" stroke="#9e9e9e" stroke-width="1"/><text x="132.4" y="243.4" class="lb" textLength="107" lengthAdjust="spacingAndGlyphs">Book1 (1).xlsx</text><text x="132.4" y="264.2" class="lb" textLength="124" lengthAdjust="spacingAndGlyphs">Table=`Sheet4$`</text><rect x="264.5" y="325.5" width="85" height="29" fill="#fff" stroke="#9e9e9e" stroke-width="1"/><text x="267.2" y="345.0" class="lb" textLength="72.6" lengthAdjust="spacingAndGlyphs">Skip 1st 1</text><path d="M210 189.3H238.4M269.5 138.8H238.4V289.8H269.5" fill="none" stroke="#1e1e1e" stroke-width="1.3"/><path d="M345 138.8H403.5" fill="none" stroke="#1e1e1e" stroke-width="1.3"/><path d="M479 138.8H498.6V189.5H521.3" fill="none" stroke="#ee161c" stroke-width="1.5"/><path d="M345.6 289.8H431.2V222.5H521.3" fill="none" stroke="#ee161c" stroke-width="1.5"/><path d="M150.3 163H164.2Q166 163 166.9 164.6L168 166.5H193.4Q196.9 166.5 196.9 170V209.7Q196.9 213.2 193.4 213.2H150.3Q146.8 213.2 146.8 209.7V166.5Q146.8 163 150.3 163Z" fill="#089e8f"/><path d="M151.9 171.4L171.6 179.4L191.2 171.4V200.8L171.6 209.2L151.9 200.8Z" fill="#fff"/><path d="M171.6 179.4V204.3M155.9 197.8L171.6 204.3L187.3 197.8" fill="none" stroke="#089e8f" stroke-width="1.3"/><path d="M201.50 182.20H206.20L210.20 188.75L206.20 195.30H201.50Z" fill="#c0dc70" stroke="#3c9238" stroke-width="1.0" stroke-linejoin="miter"/><path d="M205.80 183.30H202.60V194.20H205.80" fill="none" stroke="#d9ea82" stroke-width="0.9" stroke-opacity="0.8"/><path d="M265.10 131.50H274.50V145.20H265.50L269.70 138.35Z" fill="#c0dc70" stroke="#3c9238" stroke-width="1.0" stroke-linejoin="miter"/><path d="M266.90 132.60H273.40V144.10H267.20" fill="none" stroke="#d9ea82" stroke-width="0.9" stroke-opacity="0.8"/><circle cx="305.5" cy="138.4" r="25.8" fill="#1a5e9b"/><rect x="285.90" y="127.30" width="10.90" height="2.20" rx="1" fill="#fff"/><path d="M287.60 129.00H295.10V149.45A3.75 3.75 0 0 1 287.60 149.45Z" fill="#fff"/><rect x="289.00" y="129.90" width="4.60" height="8.60" fill="#1a5e9b"/><rect x="288.80" y="131.00" width="2.80" height="1.2" fill="#fff"/><rect x="288.80" y="133.15" width="2.80" height="1.2" fill="#fff"/><rect x="288.80" y="135.30" width="2.80" height="1.2" fill="#fff"/><rect x="298.90" y="123.90" width="13.40" height="2.20" rx="1" fill="#fff"/><path d="M300.50 125.60H310.30V152.80A4.90 4.90 0 0 1 300.50 152.80Z" fill="#fff"/><rect x="302.10" y="126.40" width="6.70" height="12.10" fill="#1a5e9b"/><rect x="301.90" y="129.50" width="4.00" height="1.2" fill="#fff"/><rect x="301.90" y="132.40" width="4.00" height="1.2" fill="#fff"/><rect x="301.90" y="135.30" width="4.00" height="1.2" fill="#fff"/><rect x="313.70" y="127.30" width="10.70" height="2.20" rx="1" fill="#fff"/><path d="M315.20 129.00H322.80V149.40A3.80 3.80 0 0 1 315.20 149.40Z" fill="#fff"/><rect x="316.70" y="129.90" width="4.40" height="8.60" fill="#1a5e9b"/><rect x="316.50" y="131.00" width="2.60" height="1.2" fill="#fff"/><rect x="316.50" y="133.15" width="2.60" height="1.2" fill="#fff"/><rect x="316.50" y="135.30" width="2.60" height="1.2" fill="#fff"/><path d="M336.50 131.50H341.20L344.80 138.40L341.20 145.30H336.50Z" fill="#c0dc70" stroke="#3c9238" stroke-width="1.0" stroke-linejoin="miter"/><path d="M340.80 132.60H337.60V144.20H340.80" fill="none" stroke="#d9ea82" stroke-width="0.9" stroke-opacity="0.8"/><path d="M399.80 131.50H408.40V145.20H400.20L403.70 138.35Z" fill="#c0dc70" stroke="#3c9238" stroke-width="1.0" stroke-linejoin="miter"/><path d="M401.60 132.60H407.30V144.10H401.90" fill="none" stroke="#d9ea82" stroke-width="0.9" stroke-opacity="0.8"/><circle cx="439.2" cy="138.4" r="25.7" fill="#1a5e9b"/><circle cx="422.5" cy="137.5" r="4.8" fill="#fff"/><circle cx="455.6" cy="137.5" r="4.8" fill="#fff"/><polygon fill="#fff" points="429.6,137.0 433.8,132.2 439.4,136.6 453.1,122.9 456.5,127.7 439.4,143.4"/><path d="M470.50 131.80H475.20L479.10 138.50L475.20 145.20H470.50Z" fill="#c0dc70" stroke="#3c9238" stroke-width="1.0" stroke-linejoin="miter"/><path d="M474.80 132.90H471.60V144.10H474.80" fill="none" stroke="#d9ea82" stroke-width="0.9" stroke-opacity="0.8"/><path d="M265.20 282.70H274.50V296.20H265.60L269.60 289.45Z" fill="#c0dc70" stroke="#3c9238" stroke-width="1.0" stroke-linejoin="miter"/><path d="M267.00 283.80H273.40V295.10H267.30" fill="none" stroke="#d9ea82" stroke-width="0.9" stroke-opacity="0.8"/><circle cx="305.6" cy="289.3" r="25.8" fill="#1a5e9b"/><rect x="286.00" y="278.20" width="10.90" height="2.20" rx="1" fill="#fff"/><path d="M287.70 279.90H295.20V300.35A3.75 3.75 0 0 1 287.70 300.35Z" fill="#fff"/><rect x="289.10" y="280.80" width="4.60" height="8.60" fill="#1a5e9b"/><rect x="288.90" y="281.90" width="2.80" height="1.2" fill="#fff"/><rect x="288.90" y="284.05" width="2.80" height="1.2" fill="#fff"/><rect x="288.90" y="286.20" width="2.80" height="1.2" fill="#fff"/><rect x="299.00" y="274.80" width="13.40" height="2.20" rx="1" fill="#fff"/><path d="M300.60 276.50H310.40V303.70A4.90 4.90 0 0 1 300.60 303.70Z" fill="#fff"/><rect x="302.20" y="277.30" width="6.70" height="12.10" fill="#1a5e9b"/><rect x="302.00" y="280.40" width="4.00" height="1.2" fill="#fff"/><rect x="302.00" y="283.30" width="4.00" height="1.2" fill="#fff"/><rect x="302.00" y="286.20" width="4.00" height="1.2" fill="#fff"/><rect x="313.80" y="278.20" width="10.70" height="2.20" rx="1" fill="#fff"/><path d="M315.30 279.90H322.90V300.30A3.80 3.80 0 0 1 315.30 300.30Z" fill="#fff"/><rect x="316.80" y="280.80" width="4.40" height="8.60" fill="#1a5e9b"/><rect x="316.60" y="281.90" width="2.60" height="1.2" fill="#fff"/><rect x="316.60" y="284.05" width="2.60" height="1.2" fill="#fff"/><rect x="316.60" y="286.20" width="2.60" height="1.2" fill="#fff"/><path d="M336.40 282.70H341.20L344.90 289.45L341.20 296.20H336.40Z" fill="#c0dc70" stroke="#3c9238" stroke-width="1.0" stroke-linejoin="miter"/><path d="M340.80 283.80H337.50V295.10H340.80" fill="none" stroke="#d9ea82" stroke-width="0.9" stroke-opacity="0.8"/><rect x="211.5" y="174.5" width="51" height="41" fill="#fff" fill-opacity="0.83" stroke="#969696" stroke-width="1"/><text x="237.6" y="191.65" class="db">40</text><text x="237.6" y="208.55" class="db">1.5KB</text><rect x="345.5" y="124.5" width="35.5" height="39.8" fill="#fff" fill-opacity="0.83" stroke="#969696" stroke-width="1"/><text x="363.9" y="141.65" class="db">1</text><text x="363.9" y="158.55" class="db">49b</text><rect x="479.5" y="124.5" width="36" height="40" fill="#fff" fill-opacity="0.83" stroke="#969696" stroke-width="1"/><text x="498.1" y="141.65" class="db">1</text><text x="498.1" y="158.55" class="db">26b</text><rect x="345.5" y="275.5" width="51.5" height="40" fill="#fff" fill-opacity="0.83" stroke="#969696" stroke-width="1"/><text x="371.9" y="292.20" class="db">39</text><text x="371.9" y="308.83" class="db">1.5KB</text><rect x="516.1" y="165.2" width="82.8" height="82" fill="none" stroke="#3a9bf4" stroke-width="1.3" stroke-dasharray="4.2 2.3"/><rect x="530.8" y="179.9" width="51.2" height="51.1" rx="5.2" fill="#64468c"/><path d="M551.60 210.76L551.28 213.62L548.12 213.62L547.80 210.76L545.02 210.01L543.30 212.33L540.58 210.75L541.72 208.11L539.69 206.08L537.05 207.22L535.47 204.50L537.79 202.78L537.04 200.00L534.18 199.68L534.18 196.52L537.04 196.20L537.79 193.42L535.47 191.70L537.05 188.98L539.69 190.12L541.72 188.09L540.58 185.45L543.30 183.87L545.02 186.19L547.80 185.44L548.12 182.58L551.28 182.58L551.60 185.44L554.38 186.19L556.10 183.87L558.82 185.45L557.68 188.09L559.71 190.12L562.35 188.98L563.93 191.70L561.61 193.42L562.36 196.20L565.22 196.52L565.22 199.68L562.36 200.00L561.61 202.78L563.93 204.50L562.35 207.22L559.71 206.08L557.68 208.11L558.82 210.75L556.10 212.33L554.38 210.01ZM558.60 198.10A8.9 8.9 0 1 0 540.80 198.10A8.9 8.9 0 1 0 558.60 198.10Z" fill="#fff" fill-rule="evenodd"/><circle cx="568.5" cy="216.4" r="13.2" fill="#64468c"/><path d="M569.88 225.60L569.67 227.94L567.33 227.94L567.12 225.60L565.10 225.06L563.74 226.98L561.72 225.81L562.70 223.67L561.23 222.20L559.09 223.18L557.92 221.16L559.84 219.80L559.30 217.78L556.96 217.57L556.96 215.23L559.30 215.02L559.84 213.00L557.92 211.64L559.09 209.62L561.23 210.60L562.70 209.13L561.72 206.99L563.74 205.82L565.10 207.74L567.12 207.20L567.33 204.86L569.67 204.86L569.88 207.20L571.90 207.74L573.26 205.82L575.28 206.99L574.30 209.13L575.77 210.60L577.91 209.62L579.08 211.64L577.16 213.00L577.70 215.02L580.04 215.23L580.04 217.57L577.70 217.78L577.16 219.80L579.08 221.16L577.91 223.18L575.77 222.20L574.30 223.67L575.28 225.81L573.26 226.98L571.90 225.06ZM575.20 216.40A6.7 6.7 0 1 0 561.80 216.40A6.7 6.7 0 1 0 575.20 216.40Z" fill="#fff" fill-rule="evenodd"/><rect x="563.3" y="215.1" width="10.4" height="2.6" fill="#fff"/><rect x="567.2" y="211.2" width="2.6" height="10.4" fill="#fff"/><path d="M516.05 182.65H529.35V195.15H516.45L521.35 188.90Z" fill="#c0dc70" stroke="#1e7a38" stroke-width="1.1" stroke-linejoin="miter"/><path d="M517.80 183.70H528.30V194.10H518.10" fill="none" stroke="#d9ea82" stroke-width="0.9" stroke-opacity="0.8"/><path d="M516.05 215.65H529.35V228.35H516.45L521.35 222.00Z" fill="#c0dc70" stroke="#1e7a38" stroke-width="1.1" stroke-linejoin="miter"/><path d="M517.80 216.70H528.30V227.30H518.10" fill="none" stroke="#d9ea82" stroke-width="0.9" stroke-opacity="0.8"/><text x="525.4" y="192.8" class="an">T</text><text x="525" y="226.2" class="an">S</text><path d="M587.55 195.75H594.90L600.75 205.95L594.90 216.15H587.55Z" fill="#c0dc70" stroke="#1e7a38" stroke-width="1.3" stroke-linejoin="miter"/><path d="M594.50 196.70H588.50V215.20H594.50" fill="none" stroke="#d9ea82" stroke-width="0.9" stroke-opacity="0.8"/></svg>
<div style="position:absolute;left:0px;top:0px;width:754px;height:2px;background:#0f88c3;"></div><div style="position:absolute;left:545px;top:0px;width:209px;height:2px;background:#0078c8;"></div><div style="position:absolute;left:0px;top:567px;width:754px;height:195px;background:#f0f0f0;"></div><div style="position:absolute;left:0px;top:567px;width:754px;height:3px;background:#d4d4d4;"></div><div style="position:absolute;left:0px;top:570px;width:754px;height:31px;background:#d7d7d7;"></div><div style="position:absolute;left:0px;top:570px;width:754px;height:1px;background:#e2e2e2;"></div><div style="position:absolute;left:0px;top:601px;width:754px;height:4px;background:#e8e8e8;"></div><div style="position:absolute;left:0px;top:601px;width:34px;height:161px;background:#e8e8e8;"></div><div class="t" style="left:6.20px;top:579.18px;font-size:14.2px;color:#262626;word-spacing:1.37px;transform:scaleX(0.9450);">Results - Append Fields (5) - Output</div><div style="position:absolute;left:35px;top:605px;width:719px;height:26px;background:#fff;"></div><div style="position:absolute;left:34px;top:605px;width:1px;height:26px;background:#f4f4f4;"></div><div style="position:absolute;left:35px;top:631px;width:719px;height:2px;background:#f3f5fa;"></div><div style="position:absolute;left:34px;top:633px;width:720px;height:2px;background:#ebebeb;"></div><div style="position:absolute;left:34px;top:635px;width:397px;height:127px;background:#fdfdfd;"></div><div class="t" style="left:40.60px;top:611.40px;font-size:15px;color:#111;transform:scaleX(0.9913);">3 of 3 Fields</div><div class="t" style="left:174.20px;top:611.40px;font-size:15px;color:#111;transform:scaleX(0.9869);">Cell Viewer</div><div class="t" style="left:330.20px;top:611.40px;font-size:15px;color:#111;">39 records displayed</div><svg width="719" height="27" viewBox="35 605 719 27" style="position:absolute;left:35px;top:605px"><path d="M130 616.3H139.4L134.7 621Z" fill="#111"/><path d="M258.1 616.3H266.8L262.45 620.9Z" fill="#111"/><path d="M143.2 618.6L145.6 616.4L149 619.6L156.6 612.2L158.9 614.6L149 624.9Z" fill="#a9a9a9"/><path d="M165.5 607V631" stroke="#8c8c8c" stroke-width="1.1"/><path d="M270.5 607V631" stroke="#8c8c8c" stroke-width="1.1"/><path d="M322.5 607V631" stroke="#8c8c8c" stroke-width="1.1"/><path d="M285.6 611.3L290.2 616.6H287.1V624.4H284.1V616.6H281Z" fill="#bababa"/><path d="M308.6 624.4L313.2 619.1H310.1V611.3H307.1V619.1H304Z" fill="#bababa"/></svg><svg width="36" height="157" viewBox="0 605 36 157" style="position:absolute;left:0;top:605px"><rect x="10" y="608" width="2" height="2" fill="#fff"/><rect x="9" y="607" width="2" height="2" fill="#b2b2b2"/><rect x="14" y="608" width="2" height="2" fill="#fff"/><rect x="13" y="607" width="2" height="2" fill="#b2b2b2"/><rect x="18" y="608" width="2" height="2" fill="#fff"/><rect x="17" y="607" width="2" height="2" fill="#b2b2b2"/><rect x="22" y="608" width="2" height="2" fill="#fff"/><rect x="21" y="607" width="2" height="2" fill="#b2b2b2"/><rect x="26" y="608" width="2" height="2" fill="#fff"/><rect x="25" y="607" width="2" height="2" fill="#b2b2b2"/><circle cx="12.8" cy="617.9" r="2" fill="#324b4b"/><rect x="16.1" y="616.00" width="11" height="3.8" rx="0.7" fill="#324b4b"/><circle cx="12.8" cy="623.9" r="2" fill="#324b4b"/><rect x="16.1" y="622.00" width="11" height="3.8" rx="0.7" fill="#324b4b"/><circle cx="12.8" cy="629.95" r="2" fill="#324b4b"/><rect x="16.1" y="628.05" width="11" height="3.8" rx="0.7" fill="#324b4b"/><path d="M10.7 640.0H25.8Q27.3 640.0 27.3 641.5V653.3Q27.3 654.8 25.8 654.8H10.7L14.9 647.4Z" fill="#324b4b"/><text x="20" y="653.7" font-family="Liberation Sans,Arial,sans-serif" font-size="14" fill="#fff" text-anchor="middle">T</text><path d="M10.7 666.0H25.8Q27.3 666.0 27.3 667.5V679.3Q27.3 680.8 25.8 680.8H10.7L14.9 673.4Z" fill="#324b4b"/><text x="20" y="679.7" font-family="Liberation Sans,Arial,sans-serif" font-size="14" fill="#fff" text-anchor="middle">S</text><path d="M7.6 692.5H31.2" stroke="#fff" stroke-width="1"/><path d="M6.8 691.5H31.2" stroke="#bdbdbd" stroke-width="1"/><rect x="5.55" y="695.55" width="26.9" height="22" fill="none" stroke="#3399ff" stroke-width="1.1"/><path d="M11.1 699.6Q11.1 698.1 12.6 698.1H21.8L27.3 705.5L21.8 712.9H12.6Q11.1 712.9 11.1 711.4Z" fill="#324b4b"/></svg><div style="position:absolute;left:36px;top:636px;width:68px;height:19px;background:#dedede;"></div><div style="position:absolute;left:106px;top:636px;width:140px;height:19px;background:#dedede;"></div><div style="position:absolute;left:106px;top:651px;width:140px;height:4px;background:#a3e17f;"></div><div style="position:absolute;left:248px;top:636px;width:96px;height:19px;background:#dedede;"></div><div style="position:absolute;left:248px;top:651px;width:96px;height:4px;background:#a3e17f;"></div><div style="position:absolute;left:346px;top:636px;width:84.3px;height:19px;background:#dedede;"></div><div style="position:absolute;left:346px;top:651px;width:84.3px;height:4px;background:#a3e17f;"></div><div class="t" style="left:39.20px;top:639.53px;font-size:12.6px;color:#000;font-weight:bold;transform:scaleX(0.9941);">Record #</div><div class="t" style="left:169.25px;top:639.53px;font-size:12.6px;color:#000;font-weight:bold;">F1</div><div class="t" style="left:266.50px;top:639.53px;font-size:12.6px;color:#000;font-weight:bold;transform:scaleX(0.9849);">Source F1</div><div class="t" style="left:359.00px;top:639.53px;font-size:12.6px;color:#000;font-weight:bold;transform:scaleX(1.0424);">FileName</div><div style="position:absolute;left:105px;top:656px;width:325.5px;height:106px;background:#fff;"></div><div style="position:absolute;left:105px;top:656px;width:1px;height:106px;background:#d5d5d5;"></div><div style="position:absolute;left:247px;top:656px;width:1px;height:106px;background:#d5d5d5;"></div><div style="position:absolute;left:344.5px;top:656px;width:1px;height:106px;background:#d5d5d5;"></div><div style="position:absolute;left:430px;top:656px;width:1px;height:106px;background:#d5d5d5;"></div><div style="position:absolute;left:105px;top:656px;width:325.5px;height:1px;background:#d5d5d5;"></div><div style="position:absolute;left:36px;top:657px;width:68px;height:17.6px;background:#dedede;"></div><div class="t" style="left:39.20px;top:658.45px;font-size:14px;color:#000;font-weight:bold;transform:scaleX(0.9500);">1</div><div class="t" style="left:108.80px;top:661.15px;font-size:12.7px;color:#000;transform:scaleX(1.0202);">Comments are here</div><div class="t" style="left:251.60px;top:661.15px;font-size:12.7px;color:#000;transform:scaleX(1.0047);">Postcode</div><div class="t" style="left:348.80px;top:661.15px;font-size:12.7px;color:#000;transform:scaleX(1.0170);">Book1 (1)</div><div style="position:absolute;left:105px;top:676px;width:325.5px;height:1px;background:#d5d5d5;"></div><div style="position:absolute;left:36px;top:677px;width:68px;height:17.6px;background:#dedede;"></div><div class="t" style="left:39.20px;top:678.45px;font-size:14px;color:#000;font-weight:bold;transform:scaleX(0.9500);">2</div><div class="t" style="left:108.80px;top:681.15px;font-size:12.7px;color:#000;transform:scaleX(1.0202);">Comments are here</div><div class="t" style="left:251.60px;top:681.15px;font-size:12.7px;color:#000;transform:scaleX(0.9007);">LS2 9JT</div><div class="t" style="left:348.80px;top:681.15px;font-size:12.7px;color:#000;transform:scaleX(1.0170);">Book1 (1)</div><div style="position:absolute;left:105px;top:696px;width:325.5px;height:1px;background:#d5d5d5;"></div><div style="position:absolute;left:36px;top:697px;width:68px;height:17.6px;background:#dedede;"></div><div class="t" style="left:39.20px;top:698.45px;font-size:14px;color:#000;font-weight:bold;transform:scaleX(0.9500);">3</div><div class="t" style="left:108.80px;top:701.15px;font-size:12.7px;color:#000;transform:scaleX(1.0202);">Comments are here</div><div class="t" style="left:251.60px;top:701.15px;font-size:12.7px;color:#000;transform:scaleX(0.9128);">LS1 3HE</div><div class="t" style="left:348.80px;top:701.15px;font-size:12.7px;color:#000;transform:scaleX(1.0170);">Book1 (1)</div><div style="position:absolute;left:105px;top:716px;width:325.5px;height:1px;background:#d5d5d5;"></div><div style="position:absolute;left:36px;top:717px;width:68px;height:17.6px;background:#dedede;"></div><div class="t" style="left:39.20px;top:718.45px;font-size:14px;color:#000;font-weight:bold;transform:scaleX(0.9500);">4</div><div class="t" style="left:108.80px;top:721.15px;font-size:12.7px;color:#000;transform:scaleX(1.0202);">Comments are here</div><div class="t" style="left:251.60px;top:721.15px;font-size:12.7px;color:#000;transform:scaleX(0.9197);">LS6 3QS</div><div class="t" style="left:348.80px;top:721.15px;font-size:12.7px;color:#000;transform:scaleX(1.0170);">Book1 (1)</div><div style="position:absolute;left:105px;top:736px;width:325.5px;height:1px;background:#d5d5d5;"></div><div style="position:absolute;left:36px;top:737px;width:68px;height:17.6px;background:#dedede;"></div><div class="t" style="left:39.20px;top:738.45px;font-size:14px;color:#000;font-weight:bold;transform:scaleX(0.9500);">5</div><div class="t" style="left:108.80px;top:741.15px;font-size:12.7px;color:#000;transform:scaleX(1.0202);">Comments are here</div><div class="t" style="left:251.60px;top:741.15px;font-size:12.7px;color:#000;transform:scaleX(0.9128);">LS1 3HE</div><div class="t" style="left:348.80px;top:741.15px;font-size:12.7px;color:#000;transform:scaleX(1.0170);">Book1 (1)</div><div style="position:absolute;left:105px;top:756px;width:325.5px;height:1px;background:#d5d5d5;"></div><div style="position:absolute;left:36px;top:757px;width:68px;height:17.6px;background:#dedede;"></div><div class="t" style="left:39.20px;top:758.45px;font-size:14px;color:#000;font-weight:bold;transform:scaleX(0.9500);">6</div>
</body></html>
